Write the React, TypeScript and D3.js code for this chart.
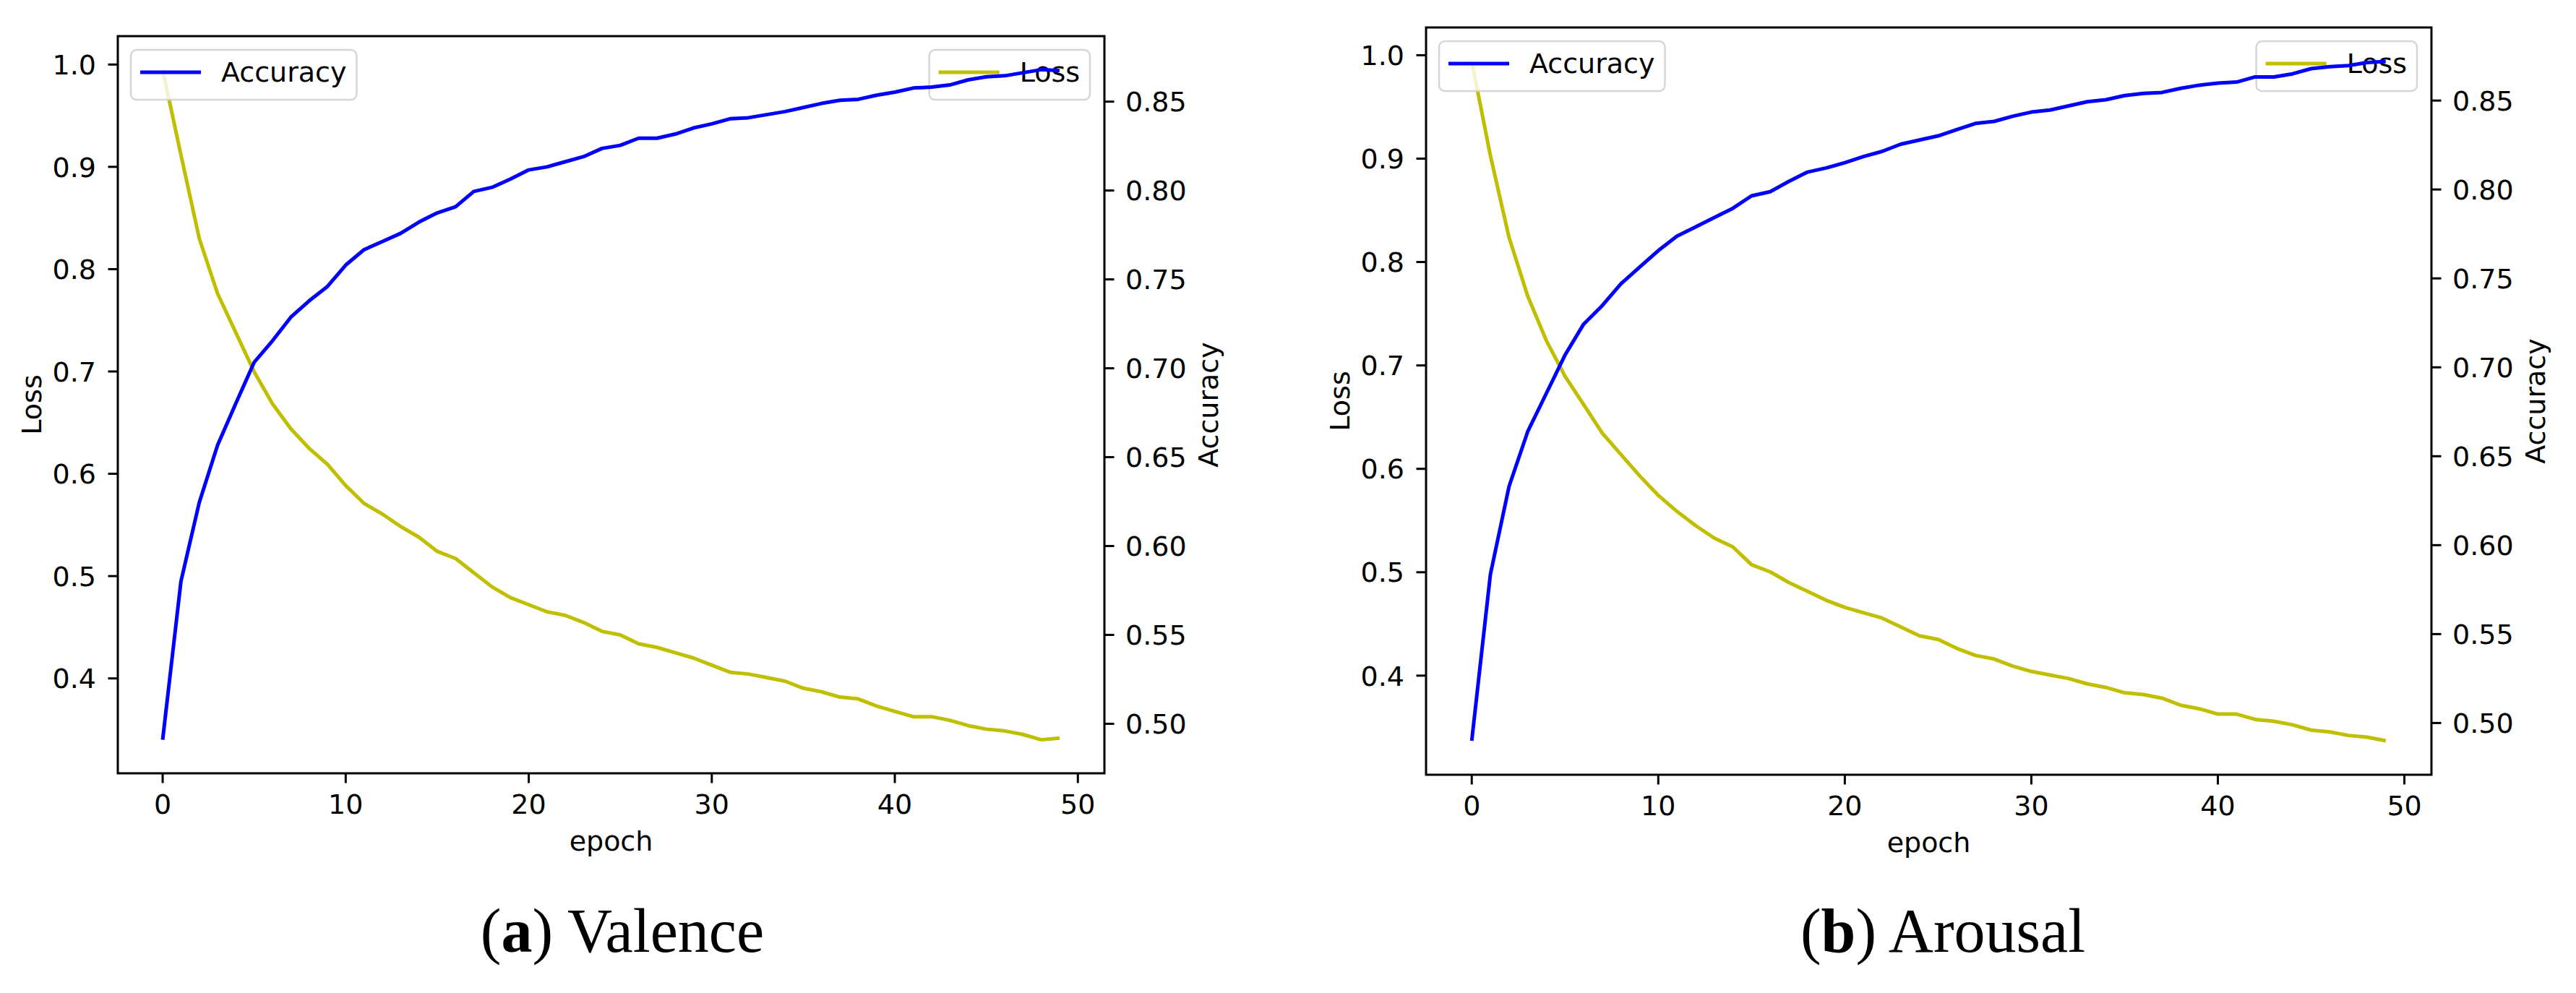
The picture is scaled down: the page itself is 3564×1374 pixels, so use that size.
import * as d3 from "d3";
import React, { useEffect } from "react";

// values read per epoch (0..49)
const valenceAccuracy = [
    0.340, 0.495, 0.572, 0.628, 0.669, 0.709, 0.730, 0.753, 0.769, 0.783,
    0.804, 0.819, 0.827, 0.835, 0.846, 0.855, 0.861, 0.876, 0.880, 0.888,
    0.897, 0.900, 0.905, 0.910, 0.918, 0.921, 0.928, 0.928, 0.932, 0.938,
    0.942, 0.947, 0.948, 0.951, 0.954, 0.958, 0.962, 0.965, 0.966, 0.970,
    0.973, 0.977, 0.978, 0.980, 0.985, 0.988, 0.989, 0.992, 0.995, 0.994,
];
const valenceLoss = [
    0.868, 0.820, 0.773, 0.742, 0.720, 0.698, 0.680, 0.666, 0.655, 0.646,
    0.634, 0.624, 0.618, 0.611, 0.605, 0.597, 0.593, 0.585, 0.577, 0.571,
    0.567, 0.563, 0.561, 0.557, 0.552, 0.550, 0.545, 0.543, 0.540, 0.537,
    0.533, 0.529, 0.528, 0.526, 0.524, 0.520, 0.518, 0.515, 0.514, 0.510,
    0.507, 0.504, 0.504, 0.502, 0.499, 0.497, 0.496, 0.494, 0.491, 0.492,
];
const arousalAccuracy = [
    0.337, 0.498, 0.583, 0.636, 0.673, 0.710, 0.740, 0.758, 0.779, 0.795,
    0.811, 0.825, 0.834, 0.843, 0.852, 0.864, 0.868, 0.878, 0.887, 0.891,
    0.896, 0.902, 0.907, 0.914, 0.918, 0.922, 0.928, 0.934, 0.936, 0.941,
    0.945, 0.947, 0.951, 0.955, 0.957, 0.961, 0.963, 0.964, 0.968, 0.971,
    0.973, 0.974, 0.979, 0.979, 0.982, 0.987, 0.989, 0.990, 0.993, 0.994,
];
const arousalLoss = [
    0.872, 0.819, 0.773, 0.740, 0.715, 0.695, 0.679, 0.663, 0.651, 0.639,
    0.628, 0.619, 0.611, 0.604, 0.599, 0.589, 0.585, 0.579, 0.574, 0.569,
    0.565, 0.562, 0.559, 0.554, 0.549, 0.547, 0.542, 0.538, 0.536, 0.532,
    0.529, 0.527, 0.525, 0.522, 0.520, 0.517, 0.516, 0.514, 0.510, 0.508,
    0.505, 0.505, 0.502, 0.501, 0.499, 0.496, 0.495, 0.493, 0.492, 0.490,
];

const xTicks = [0, 10, 20, 30, 40, 50];
const leftTicks = [0.4, 0.5, 0.6, 0.7, 0.8, 0.9, 1.0];
const rightTicks = [0.50, 0.55, 0.60, 0.65, 0.70, 0.75, 0.80, 0.85];

const captions = [
    { tag: "a", name: "Valence" },
    { tag: "b", name: "Arousal" },
];

const WIDTH = 3564;
const HEIGHT = 1374;
const FONT = "'DejaVu Sans', sans-serif";
const FS = 38;
const BLUE = "#0000ff";
const YELLOW = "#bfbf00";

// pixel boxes of the two axes (layout only)
const panels = [
    { left: 163, right: 1528, top: 50, bottom: 1070, capX: 861, acc: valenceAccuracy, loss: valenceLoss, cap: captions[0] },
    { left: 1973, right: 3364, top: 38, bottom: 1072, capX: 2688, acc: arousalAccuracy, loss: arousalLoss, cap: captions[1] },
];

// matplotlib style autoscale: data extent + 5% each side
const padded = (v: number[]) => {
    const [lo, hi] = d3.extent(v) as [number, number];
    const m = (hi - lo) * 0.05;
    return [lo - m, hi + m];
};

const App: React.FC = () => {
    const svgRef = React.useRef<SVGSVGElement>(null);

    useEffect(() => {
        const svg = d3.select(svgRef.current);
        svg.selectAll("*").remove();
        svg.append("rect").attr("width", WIDTH).attr("height", HEIGHT).attr("fill", "#fff");

        panels.forEach(p => {
            const g = svg.append("g");
            const n = p.acc.length;
            const x = d3.scaleLinear()
                .domain(padded([0, n - 1]))
                .range([p.left, p.right]);
            const yL = d3.scaleLinear().domain(padded(p.acc)).range([p.bottom, p.top]);
            const yR = d3.scaleLinear().domain(padded(p.loss)).range([p.bottom, p.top]);

            const lineL = d3.line<number>().x((_, i) => x(i)).y(d => yL(d));
            const lineR = d3.line<number>().x((_, i) => x(i)).y(d => yR(d));

            // yellow first, it sits under the legends
            g.append("path")
                .attr("d", lineR(p.loss) as string)
                .attr("fill", "none")
                .attr("stroke", YELLOW)
                .attr("stroke-width", 5)
                .attr("stroke-linejoin", "round");

            // legends
            const legend = (label: string, color: string, alignRight: boolean) => {
                const lg = g.append("g");
                const txt = lg.append("text")
                    .text(label)
                    .attr("font-family", FONT)
                    .attr("font-size", FS)
                    .attr("fill", "#000");
                const tw = (txt.node() as SVGTextElement).getComputedTextLength();
                const w = 125 + tw + 14;
                const bx = alignRight ? p.right - 20 - w : p.left + 18;
                const by = p.top + 19;
                lg.insert("rect", "text")
                    .attr("x", bx).attr("y", by)
                    .attr("width", w).attr("height", 69)
                    .attr("rx", 8)
                    .attr("fill", "#fff").attr("fill-opacity", 0.8)
                    .attr("stroke", "#cccccc").attr("stroke-opacity", 0.8)
                    .attr("stroke-width", 2.5);
                lg.insert("line", "text")
                    .attr("x1", bx + 13).attr("x2", bx + 97)
                    .attr("y1", by + 31).attr("y2", by + 31)
                    .attr("stroke", color).attr("stroke-width", 5);
                txt.attr("x", bx + 125).attr("y", by + 44);
            };
            legend("Accuracy", BLUE, false);
            legend("Loss", YELLOW, true);

            g.append("path")
                .attr("d", lineL(p.acc) as string)
                .attr("fill", "none")
                .attr("stroke", BLUE)
                .attr("stroke-width", 5)
                .attr("stroke-linejoin", "round");

            // spines
            g.append("rect")
                .attr("x", p.left).attr("y", p.top)
                .attr("width", p.right - p.left).attr("height", p.bottom - p.top)
                .attr("fill", "none").attr("stroke", "#000").attr("stroke-width", 3);

            // x ticks
            xTicks.forEach(t => {
                g.append("line")
                    .attr("x1", x(t)).attr("x2", x(t))
                    .attr("y1", p.bottom).attr("y2", p.bottom + 13.5)
                    .attr("stroke", "#000").attr("stroke-width", 3);
                g.append("text")
                    .attr("x", x(t)).attr("y", p.bottom + 56)
                    .attr("text-anchor", "middle")
                    .attr("font-family", FONT).attr("font-size", FS)
                    .text(String(t));
            });

            // left ticks
            leftTicks.forEach(t => {
                g.append("line")
                    .attr("x1", p.left - 13.5).attr("x2", p.left)
                    .attr("y1", yL(t)).attr("y2", yL(t))
                    .attr("stroke", "#000").attr("stroke-width", 3);
                g.append("text")
                    .attr("x", p.left - 30).attr("y", yL(t))
                    .attr("dy", "0.36em")
                    .attr("text-anchor", "end")
                    .attr("font-family", FONT).attr("font-size", FS)
                    .text(d3.format(".1f")(t));
            });

            // right ticks
            rightTicks.forEach(t => {
                g.append("line")
                    .attr("x1", p.right).attr("x2", p.right + 13.5)
                    .attr("y1", yR(t)).attr("y2", yR(t))
                    .attr("stroke", "#000").attr("stroke-width", 3);
                g.append("text")
                    .attr("x", p.right + 29).attr("y", yR(t))
                    .attr("dy", "0.36em")
                    .attr("text-anchor", "start")
                    .attr("font-family", FONT).attr("font-size", FS)
                    .text(d3.format(".2f")(t));
            });

            const cy = (p.top + p.bottom) / 2;
            g.append("text")
                .attr("transform", `translate(${p.left - 106},${cy}) rotate(-90)`)
                .attr("text-anchor", "middle")
                .attr("font-family", FONT).attr("font-size", FS)
                .text("Loss");
            g.append("text")
                .attr("transform", `translate(${p.right + 157},${cy}) rotate(-90)`)
                .attr("text-anchor", "middle")
                .attr("font-family", FONT).attr("font-size", FS)
                .text("Accuracy");
            g.append("text")
                .attr("x", (p.left + p.right) / 2).attr("y", p.bottom + 107)
                .attr("text-anchor", "middle")
                .attr("font-family", FONT).attr("font-size", FS)
                .text("epoch");

            // caption under the panel
            const cap = g.append("text")
                .attr("x", p.capX).attr("y", 1317)
                .attr("text-anchor", "middle")
                .attr("font-family", "'Liberation Serif', 'DejaVu Serif', serif")
                .attr("font-size", 86);
            cap.append("tspan").text("(");
            cap.append("tspan").attr("font-weight", "bold").text(p.cap.tag);
            cap.append("tspan").text(") " + p.cap.name);
        });
    }, []);

    return (
        <svg
            ref={svgRef}
            width={WIDTH}
            height={HEIGHT}
            style={{ position: "absolute", left: 0, top: 0, display: "block" }}
        />
    );
};

export default App;
